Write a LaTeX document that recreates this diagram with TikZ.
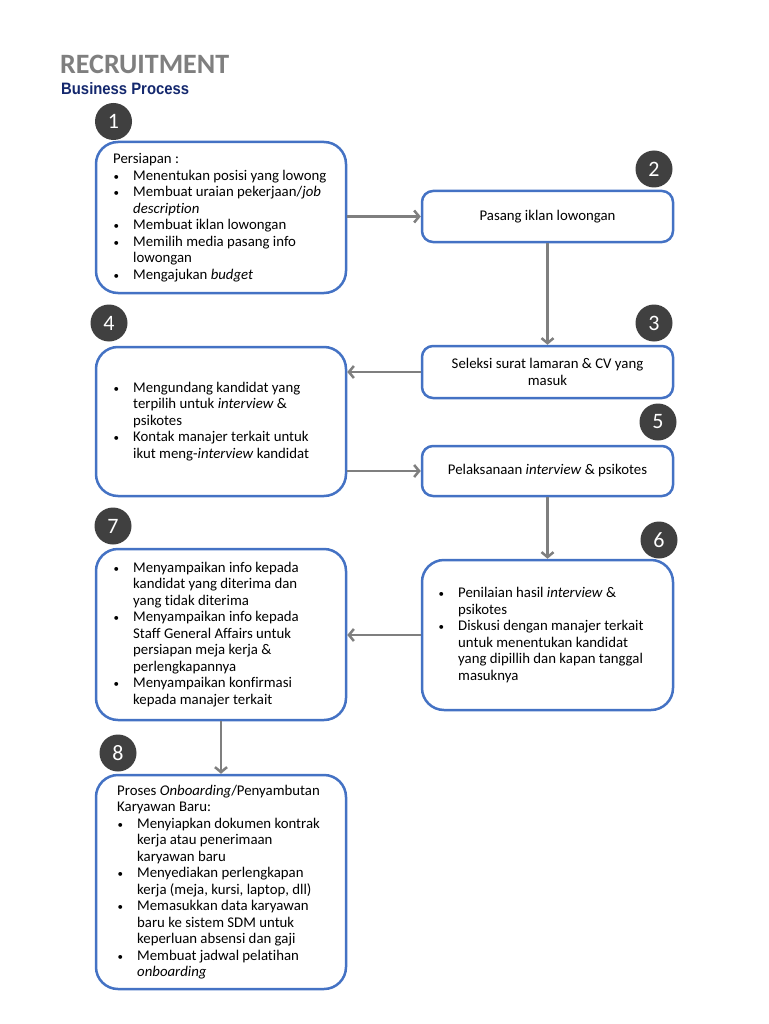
\documentclass[tikz,border=0pt]{standalone}
\usepackage{fontspec}
\setmainfont{Carlito}[RawFeature=-liga]
\newfontfamily\titlefont{Carlito}
\newfontfamily\subfont[FakeStretch=0.9]{Liberation Sans}
\usetikzlibrary{arrows.meta}
\definecolor{boxblue}{HTML}{4472C4}
\definecolor{arrowgray}{HTML}{7F7F7F}
\definecolor{circgray}{HTML}{404040}
\definecolor{titlegray}{HTML}{7F7F7F}
\definecolor{navy}{RGB}{20,40,110}
\newcommand\itm[1]{\makebox[20pt][l]{\hspace{0.5pt}{\fontsize{11}{11}\selectfont •}}#1}
\newcommand\cnt[1]{\hspace*{20pt}#1}
\tikzset{
  bigbox/.style={draw=boxblue, line width=2.5pt, rounded corners=22pt, fill=white, inner sep=0pt},
  smallbox/.style={draw=boxblue, line width=2.5pt, rounded corners=11pt, fill=white, inner sep=0pt, align=center, font=\fontsize{14.8}{16.5}\selectfont},
  boxtext/.style={inner sep=0pt, align=left, anchor=west, font=\fontsize{14.8}{16.5}\selectfont},
  numcirc/.style={circle, fill=circgray, text=white, minimum size=37pt, inner sep=0pt, font=\fontsize{22}{22}\selectfont},
  flow/.style={draw=arrowgray, line width=2.8pt, -{Straight Barb[length=5pt,width=12pt,line width=2.5pt]}}
}
\begin{document}
\begin{tikzpicture}[x=1pt,y=-1pt]
\useasboundingbox (0,0) rectangle (768,1024);
\fill[white] (0,0) rectangle (768,1024);
% titles
\node[anchor=base west, inner sep=0pt, text=titlegray, font=\titlefont\bfseries\fontsize{28}{28}\selectfont] (title) at (60,74) {RECRUITMENT};
\node[anchor=base west, inner sep=0pt, text=navy, font=\subfont\bfseries\fontsize{16.5}{16.5}\selectfont] (subtitle) at (61,95) {Business Process};

% boxes
\node[bigbox, minimum width=250pt, minimum height=151pt] (b1) at (221,217.5) {};
\node[smallbox, minimum width=251pt, minimum height=51pt] (b2) at (547.5,216.5) {Pasang iklan lowongan};
\node[smallbox, minimum width=251pt, minimum height=52pt] (b3) at (547.5,372) {Seleksi surat lamaran \& CV yang\\masuk};
\node[bigbox, minimum width=250pt, minimum height=149pt] (b4) at (221,421.5) {};
\node[smallbox, minimum width=251pt, minimum height=50pt] (b5) at (547.5,471) {Pelaksanaan \textit{interview} \& psikotes};
\node[bigbox, minimum width=251pt, minimum height=150pt] (b6) at (547.5,635) {};
\node[bigbox, minimum width=250pt, minimum height=171pt] (b7) at (221,634.5) {};
\node[bigbox, minimum width=250pt, minimum height=214pt] (b8) at (221,882) {};

% box texts
\node[boxtext] (t1) at (113,217.5) {Persiapan :\\
\itm{Menentukan posisi yang lowong}\\
\itm{Membuat uraian pekerjaan/\textit{job}}\\
\cnt{\textit{description}}\\
\itm{Membuat iklan lowongan}\\
\itm{Memilih media pasang info}\\
\cnt{lowongan}\\
\itm{Mengajukan \textit{budget}}};

\node[boxtext] (t4) at (113,421.5) {\itm{Mengundang kandidat yang}\\
\cnt{terpilih untuk \textit{interview} \&}\\
\cnt{psikotes}\\
\itm{Kontak manajer terkait untuk}\\
\cnt{ikut meng-\textit{interview} kandidat}};

\node[boxtext] (t6) at (438,635) {\itm{Penilaian hasil \textit{interview} \&}\\
\cnt{psikotes}\\
\itm{Diskusi dengan manajer terkait}\\
\cnt{untuk menentukan kandidat}\\
\cnt{yang dipillih dan kapan tanggal}\\
\cnt{masuknya}};

\node[boxtext] (t7) at (113,634.5) {\itm{Menyampaikan info kepada}\\
\cnt{kandidat yang diterima dan}\\
\cnt{yang tidak diterima}\\
\itm{Menyampaikan info kepada}\\
\cnt{Staff General Affairs untuk}\\
\cnt{persiapan meja kerja \&}\\
\cnt{perlengkapannya}\\
\itm{Menyampaikan konfirmasi}\\
\cnt{kepada manajer terkait}};

\node[boxtext] (t8) at (117,882) {Proses \textit{Onboarding}/Penyambutan\\
Karyawan Baru:\\
\itm{Menyiapkan dokumen kontrak}\\
\cnt{kerja atau penerimaan}\\
\cnt{karyawan baru}\\
\itm{Menyediakan perlengkapan}\\
\cnt{kerja (meja, kursi, laptop, dll)}\\
\itm{Memasukkan data karyawan}\\
\cnt{baru ke sistem SDM untuk}\\
\cnt{keperluan absensi dan gaji}\\
\itm{Membuat jadwal pelatihan}\\
\cnt{\textit{onboarding}}};

% number circles
\node[numcirc] (n1) at (113.5,121.5) {1};
\node[numcirc] (n2) at (654,169) {2};
\node[numcirc] (n3) at (654,323) {3};
\node[numcirc] (n4) at (109,323) {4};
\node[numcirc] (n5) at (658,422) {5};
\node[numcirc] (n6) at (659,540) {6};
\node[numcirc] (n7) at (113,526) {7};
\node[numcirc] (n8) at (118,753) {8};

% connectors
\draw[flow] (b1.east |- b2.west) -- (b2.west);
\draw[flow] (b2.south) -- (b3.north);
\draw[flow] (b3.west) -- (b3.west -| b4.east);
\draw[flow] (b5.west -| b4.east) -- (b5.west);
\draw[flow] (b5.south) -- (b6.north);
\draw[flow] (b6.west) -- (b6.west -| b7.east);
\draw[flow] (b7.south) -- (b8.north);
\end{tikzpicture}
\end{document}
